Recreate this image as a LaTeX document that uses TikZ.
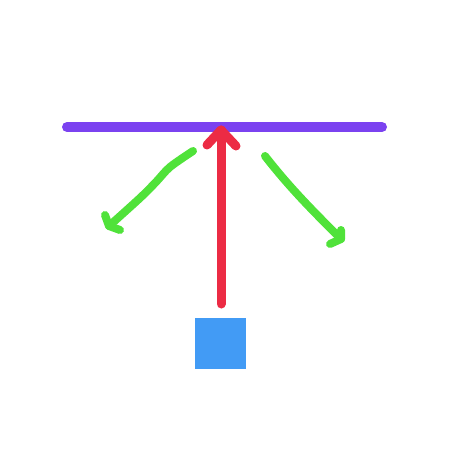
\documentclass[tikz,border=0pt]{standalone}
\usetikzlibrary{calc}
\definecolor{barpurple}{RGB}{123,66,240}
\definecolor{forcered}{RGB}{236,43,68}
\definecolor{reflgreen}{RGB}{80,226,58}
\definecolor{boxblue}{RGB}{66,155,245}
\begin{document}
\begin{tikzpicture}[x=1pt,y=-1pt,
  barline/.style={draw=barpurple,line width=10pt,line cap=round},
  redline/.style={draw=forcered,line width=9pt,line cap=round,line join=round},
  greenline/.style={draw=reflgreen,line width=8pt,line cap=round,line join=round},
  boxnode/.style={fill=boxblue,draw=none,minimum size=51pt,inner sep=0pt}]
\useasboundingbox (0,0) rectangle (474,474);
\coordinate (pl) at (67,127);
\coordinate (pr) at (382,127);
\draw[barline] (pl) -- (pr);
\node[boxnode] (box) at (220,343) {};
\coordinate (rbot) at (221,304);
\coordinate (rtop) at (221,130);
\draw[redline] (rbot) -- (rtop);
\draw[redline] ($(rtop)+(-14,15)$) -- (rtop) -- ($(rtop)+(15,16)$);
% left green
\coordinate (gls) at (193,151);
\coordinate (gle) at (109,226);
\draw[greenline] plot[smooth,tension=0.5] coordinates {(gls) (170,167) (156,182) (140,198) (gle)};
\draw[greenline] (105,215) -- (gle) -- (120,230);
% right green
\coordinate (grs) at (265,156);
\coordinate (gre) at (341,239);
\draw[greenline] (grs) .. controls (290,188) and (312,210) .. (gre);
\draw[greenline] (341,230) -- (gre) -- (330,244);
\end{tikzpicture}
\end{document}
